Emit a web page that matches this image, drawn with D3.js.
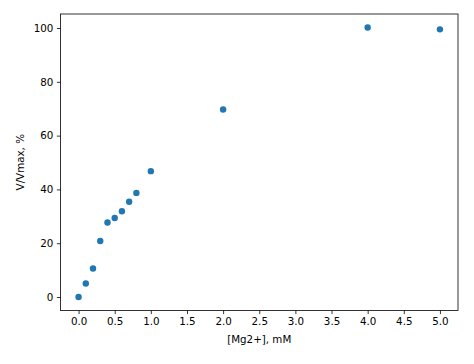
<!DOCTYPE html>
<html><head><meta charset="utf-8">
<script src="https://cdn.jsdelivr.net/npm/d3@7"></script>
<style>body{margin:0;background:#fff}svg{display:block}text{font-family:"DejaVu Sans",sans-serif}</style>
</head><body><svg id="c" width="474" height="364"></svg>
<script>
const mg = [0.0, 0.1, 0.2, 0.3, 0.4, 0.5, 0.6, 0.7, 0.8, 1.0, 2.0, 4.0, 5.0];
const vPct = [0.0, 5.0, 10.6, 20.8, 27.7, 29.4, 31.9, 35.4, 38.7, 46.8, 69.7, 100.2, 99.5];
const xTicks = [0, 0.5, 1, 1.5, 2, 2.5, 3, 3.5, 4, 4.5, 5];
const yTicks = [0, 20, 40, 60, 80, 100];
const xLabel = "[Mg2+], mM";
const yLabel = "V/Vmax, %";

const svg = d3.select("#c");
const L = 60.5, R = 458, T = 14, B = 310.5;
const x = d3.scaleLinear().domain([-0.25, 5.25]).range([L, R]);
const y = d3.scaleLinear().domain([-5.01, 105.21]).range([B, T]);

const fs = "10.3px";
const xa = svg.append("g").attr("transform", `translate(0,${B})`)
  .call(d3.axisBottom(x).tickValues(xTicks).tickFormat(d3.format(".1f")).tickSize(3.6).tickPadding(3.5));
const ya = svg.append("g").attr("transform", `translate(${L},0)`)
  .call(d3.axisLeft(y).tickValues(yTicks).tickFormat(d3.format("d")).tickSize(3.6).tickPadding(3.5));
[xa, ya].forEach(a => {
  a.select(".domain").remove();
  a.selectAll("line").attr("stroke", "#000").attr("stroke-width", 0.8);
  a.selectAll("text").attr("fill", "#000").style("font-size", fs).style("font-family", "DejaVu Sans");
});

svg.append("rect").attr("x", L).attr("y", T).attr("width", R - L).attr("height", B - T)
  .attr("fill", "none").attr("stroke", "#000").attr("stroke-width", 0.8);

svg.append("g").selectAll("circle").data(mg).join("circle")
  .attr("cx", d => x(d)).attr("cy", (d, i) => y(vPct[i])).attr("r", 3.2).attr("fill", "#1f77b4");

svg.append("text").attr("x", (L + R) / 2).attr("y", 343).attr("text-anchor", "middle")
  .style("font-size", fs).attr("fill", "#000").text(xLabel);
svg.append("text").attr("transform", `translate(24,${(T + B) / 2}) rotate(-90)`).attr("text-anchor", "middle")
  .style("font-size", fs).attr("fill", "#000").text(yLabel);
</script></body></html>
